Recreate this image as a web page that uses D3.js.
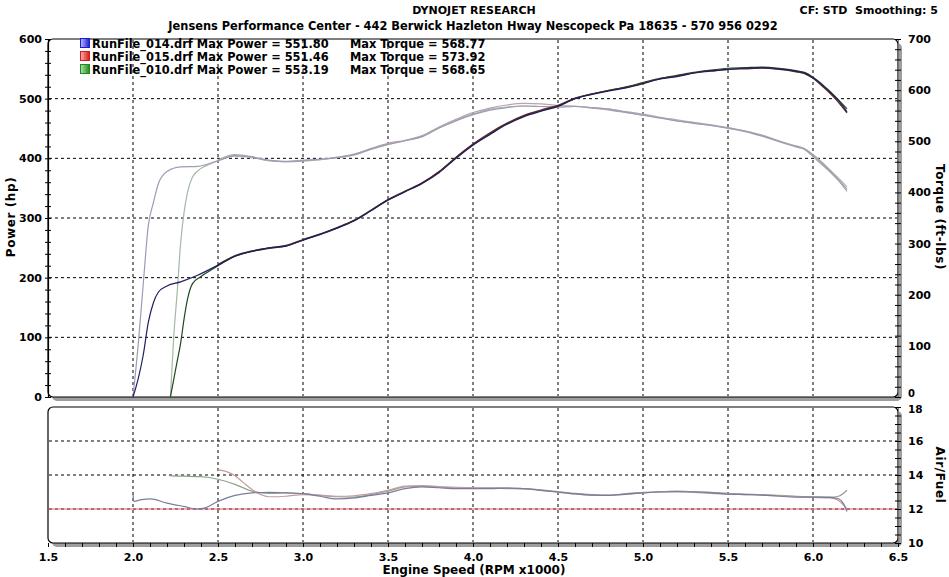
<!DOCTYPE html>
<html>
<head>
<meta charset="utf-8">
<script src="https://cdn.jsdelivr.net/npm/d3@7"></script>
<style>
  body { margin: 0; background: #fff; }
  svg { display: block; font-family: Verdana, "DejaVu Sans", sans-serif; font-weight: bold; }
  .grid line { stroke: #000; stroke-width: 1; stroke-dasharray: 3,3; }
  .curve { fill: none; stroke-width: 1.2; }
</style>
</head>
<body>
<div id="chart"></div>
<script>
// Run files shown in the legend
const runNames = ['RunFile_014.drf', 'RunFile_015.drf', 'RunFile_010.drf'];
const maxPower = ['551.80', '551.46', '553.19'];
const maxTorque = ['568.77', '573.92', '568.65'];

// RunFile_014 - power (hp) and torque (ft-lbs) vs engine speed (RPM x1000)
const rpm014 = [2.00, 2.03, 2.06, 2.09, 2.12, 2.15, 2.20, 2.28, 2.38, 2.50, 2.60, 2.70, 2.80, 2.90, 3.00, 3.10, 3.20, 3.30, 3.40, 3.50,
  3.60, 3.70, 3.80, 3.90, 4.00, 4.10, 4.20, 4.30, 4.40, 4.50, 4.60, 4.70, 4.80, 4.90, 5.00, 5.10, 5.20, 5.30, 5.40, 5.50,
  5.60, 5.70, 5.80, 5.90, 5.95, 6.00, 6.05, 6.10, 6.15, 6.20];
const hp014 = [0, 30, 70, 125, 158, 176, 186, 193, 204, 221, 236, 244, 250, 253, 263, 273, 283, 295, 312, 330,
  344, 358, 376, 400, 422, 440, 457, 470, 479, 487, 500, 507, 513, 518, 525, 533, 537, 543, 547, 549,
  551, 552, 550, 546, 543, 535, 524, 511, 497, 478];
const tq014 = [0, 100, 220, 335, 380, 418, 441, 450, 451, 462, 472, 469, 463, 460, 462, 465, 468, 474, 485, 494,
  501, 509, 526, 540, 552, 561, 566, 569, 568, 567, 568, 566, 563, 557, 551, 546, 540, 535, 531, 526,
  520, 511, 500, 490, 485, 472, 458, 442, 425, 406];

// RunFile_015 - logged from 2500 rpm
const rpm015 = [2.50, 2.60, 2.70, 2.80, 2.90, 3.00, 3.10, 3.20, 3.30, 3.40, 3.50, 3.60, 3.70, 3.80, 3.90, 4.00, 4.10, 4.20,
  4.30, 4.40, 4.50, 4.60, 4.70, 4.80, 4.90, 5.00, 5.10, 5.20, 5.30, 5.40, 5.50, 5.60, 5.70, 5.80, 5.90, 5.95,
  6.00, 6.05, 6.10, 6.15, 6.20];
const hp015 = [222, 237, 245, 250, 254, 264, 273, 284, 296, 313, 331, 345, 359, 378, 402, 424, 443, 459,
  472, 481, 489, 501, 508, 514, 519, 526, 533, 538, 543, 546, 549, 550, 551, 549, 545, 542,
  534, 522, 509, 494, 476];
const tq015 = [464, 474, 470, 462, 461, 463, 464, 469, 475, 486, 496, 502, 511, 528, 543, 556, 565, 571,
  574, 573, 570, 569, 565, 561, 556, 551, 545, 540, 536, 531, 525, 519, 510, 499, 489, 484,
  470, 455, 440, 423, 402];

// RunFile_010 - logged from 2220 rpm
const rpm010 = [2.22, 2.24, 2.26, 2.28, 2.30, 2.32, 2.35, 2.40, 2.45, 2.50, 2.60, 2.70, 2.80, 2.90, 3.00, 3.10, 3.20, 3.30,
  3.40, 3.50, 3.60, 3.70, 3.80, 3.90, 4.00, 4.10, 4.20, 4.30, 4.40, 4.50, 4.60, 4.70, 4.80, 4.90, 5.00, 5.10,
  5.20, 5.30, 5.40, 5.50, 5.60, 5.70, 5.80, 5.90, 5.95, 6.00, 6.05, 6.10, 6.15, 6.20];
const hp010 = [0, 30, 60, 90, 130, 163, 190, 202, 211, 220, 236, 244, 249, 253, 263, 272, 283, 296,
  313, 330, 344, 358, 377, 401, 423, 441, 458, 471, 480, 488, 500, 508, 514, 520, 527, 534,
  539, 544, 548, 551, 552, 553, 551, 547, 544, 536, 525, 512, 498, 483];
const tq010 = [0, 120, 205, 300, 360, 399, 430, 447, 455, 462, 471, 468, 462, 460, 461, 464, 468, 473,
  484, 494, 501, 509, 526, 541, 553, 563, 567, 569, 568, 567, 568, 566, 563, 558, 553, 547,
  542, 537, 532, 527, 520, 512, 501, 491, 486, 474, 460, 444, 428, 411];

// Air/Fuel ratio traces
const afrRpm014 = [2.000, 2.004, 2.05, 2.10, 2.20, 2.30, 2.38, 2.42, 2.50, 2.60, 2.70, 2.80, 2.90, 3.00, 3.10, 3.20, 3.30,
  3.40, 3.50, 3.60, 3.70, 3.80, 3.90, 4.00, 4.10, 4.20, 4.30, 4.40, 4.50, 4.60, 4.70, 4.80, 4.90, 5.00, 5.10,
  5.20, 5.30, 5.40, 5.50, 5.60, 5.70, 5.80, 5.90, 6.00, 6.10, 6.15, 6.18, 6.20];
const afr014 = [12.95, 12.45, 12.55, 12.6, 12.35, 12.15, 12.0, 12.05, 12.45, 12.8, 12.95, 12.98, 12.95, 12.9, 12.75, 12.6, 12.65,
  12.8, 12.95, 13.2, 13.3, 13.25, 13.2, 13.2, 13.2, 13.22, 13.2, 13.1, 13.0, 12.9, 12.82, 12.8, 12.88, 12.95, 13.0,
  13.02, 13.0, 12.95, 12.88, 12.85, 12.82, 12.75, 12.7, 12.7, 12.68, 12.6, 12.3, 11.85];
const afrRpm015 = [2.50, 2.55, 2.60, 2.65, 2.70, 2.75, 2.80, 2.90, 3.00, 3.10, 3.20, 3.30, 3.40, 3.50, 3.60, 3.70, 3.80,
  3.90, 4.00, 4.10, 4.20, 4.30, 4.40, 4.50, 4.60, 4.70, 4.80, 4.90, 5.00, 5.10, 5.20, 5.30, 5.40, 5.50, 5.60,
  5.70, 5.80, 5.90, 6.00, 6.10, 6.15, 6.20];
const afr015 = [14.3, 14.2, 13.95, 13.55, 13.15, 12.85, 12.72, 12.75, 12.85, 12.82, 12.75, 12.78, 12.9, 13.1, 13.35, 13.38, 13.32,
  13.28, 13.25, 13.22, 13.2, 13.18, 13.1, 12.98, 12.88, 12.82, 12.8, 12.86, 12.95, 13.0, 13.02, 12.98, 12.92, 12.88, 12.85,
  12.82, 12.78, 12.72, 12.68, 12.65, 12.5, 12.0];
const afrRpm010 = [2.22, 2.30, 2.40, 2.50, 2.60, 2.70, 2.80, 2.90, 3.00, 3.10, 3.20, 3.30, 3.40, 3.50, 3.60, 3.70, 3.80,
  3.90, 4.00, 4.10, 4.20, 4.30, 4.40, 4.50, 4.60, 4.70, 4.80, 4.90, 5.00, 5.10, 5.20, 5.30, 5.40, 5.50, 5.60,
  5.70, 5.80, 5.90, 6.00, 6.10, 6.15, 6.20];
const afr010 = [13.95, 13.93, 13.9, 13.75, 13.45, 13.05, 12.92, 12.95, 12.9, 12.8, 12.72, 12.7, 12.85, 13.05, 13.3, 13.35, 13.3,
  13.25, 13.25, 13.25, 13.25, 13.2, 13.12, 13.02, 12.92, 12.85, 12.82, 12.9, 12.98, 13.02, 13.05, 13.02, 12.98, 12.92, 12.88,
  12.85, 12.8, 12.75, 12.72, 12.7, 12.75, 13.1];

const afrTarget = 12;

// Colours per run: swatch, power trace, torque trace, A/F trace
const swatchColors = [['#b8b8ff', '#1c1cd0'], ['#ffb0b0', '#d01c1c'], ['#b0e0b0', '#1c8c1c']];
const powerColors = ['#1e1e62', '#62281e', '#1e4a1e'];
const torqueColors = ['#9c9cb8', '#bca2a6', '#a6b8a6'];
const afrColors = ['#7c7c9e', '#c49c9c', '#8ea28e'];

const zip = (xs, ys) => xs.map((x, i) => ({ x, y: ys[i] }));
const runs = [
  { power: zip(rpm014, hp014), torque: zip(rpm014, tq014), afr: zip(afrRpm014, afr014) },
  { power: zip(rpm015, hp015), torque: zip(rpm015, tq015), afr: zip(afrRpm015, afr015) },
  { power: zip(rpm010, hp010), torque: zip(rpm010, tq010), afr: zip(afrRpm010, afr010) }
];

const width = 949;
const height = 577;
const upper = { left: 48, right: 898, top: 39, bottom: 397 };
const lower = { left: 48, right: 898, top: 407, bottom: 543 };

const svg = d3.select('#chart').append('svg')
  .attr('width', width)
  .attr('height', height);

const x = d3.scaleLinear().domain([1.5, 6.5]).range([upper.left, upper.right]);
const yHp = d3.scaleLinear().domain([0, 600]).range([upper.bottom, upper.top]);
const yTq = d3.scaleLinear().domain([0, 700]).range([upper.bottom, upper.top]);
const yAfr = d3.scaleLinear().domain([10, 18]).range([lower.bottom, lower.top]);

/**
 * Plot frame with grey drop shadow
 */
function drawFrame(box) {
  svg.append('rect')
    .attr('x', box.left + 4).attr('y', box.top + 4)
    .attr('width', box.right - box.left).attr('height', box.bottom - box.top)
    .attr('rx', 5).attr('fill', '#9e9e9e');
  svg.append('rect')
    .attr('x', box.left).attr('y', box.top)
    .attr('width', box.right - box.left).attr('height', box.bottom - box.top)
    .attr('rx', 5).attr('fill', '#fff')
    .attr('stroke', '#000').attr('stroke-width', 1.2);
}
drawFrame(upper);
drawFrame(lower);

// Dashed grid
const rpmGrid = d3.range(20, 61, 5).map(d => d / 10);
const grid = svg.append('g').attr('class', 'grid');
[upper, lower].forEach(box => {
  grid.selectAll(null).data(rpmGrid).join('line')
    .attr('x1', d => x(d)).attr('x2', d => x(d))
    .attr('y1', box.top + 1).attr('y2', box.bottom - 1);
});

// A/F target line sits under the 12.0 grid line
svg.append('line')
  .attr('x1', lower.left + 1).attr('x2', lower.right - 1)
  .attr('y1', yAfr(afrTarget)).attr('y2', yAfr(afrTarget))
  .attr('stroke', '#e8606c').attr('stroke-width', 1.2);

grid.selectAll(null).data([100, 200, 300, 400, 500]).join('line')
  .attr('x1', upper.left + 1).attr('x2', upper.right - 1)
  .attr('y1', d => yHp(d)).attr('y2', d => yHp(d));
grid.selectAll(null).data([12, 14, 16]).join('line')
  .attr('x1', lower.left + 1).attr('x2', lower.right - 1)
  .attr('y1', d => yAfr(d)).attr('y2', d => yAfr(d));

// Axes
function styleAxis(g, half) {
  g.select('.domain').attr('stroke', '#000').attr('stroke-width', 1.2);
  g.selectAll('.tick line').attr('stroke', '#000');
  if (half) g.selectAll('.tick line').attr('x1', -half).attr('x2', half);
  g.attr('font-family', null).attr('font-size', 11);
  g.selectAll('.tick text').attr('fill', '#000');
}

svg.append('g')
  .attr('transform', `translate(${upper.left},0)`)
  .call(d3.axisLeft(yHp).tickValues(d3.range(0, 601, 20))
    .tickFormat(d => d % 100 === 0 ? d : '').tickSizeInner(3).tickSizeOuter(0).tickPadding(3))
  .call(g => styleAxis(g, 3));

svg.append('g')
  .attr('transform', `translate(${upper.right},0)`)
  .call(d3.axisRight(yTq).tickValues(d3.range(0, 701, 20))
    .tickFormat(d => d % 100 === 0 ? d : '').tickSizeInner(3).tickSizeOuter(0).tickPadding(7))
  .call(g => styleAxis(g, 3))
  .call(g => g.select('.domain').attr('stroke', '#7a7a7a').attr('stroke-width', 1))
  // bottom label nudged up so it clears the A/F "18"
  .call(g => g.selectAll('.tick text').filter(d => d === 0).attr('dy', '-0.05em').attr('font-size', 10));

svg.append('g')
  .attr('transform', `translate(${lower.right},0)`)
  .call(d3.axisRight(yAfr).tickValues(d3.range(20, 37).map(d => d / 2))
    .tickFormat(d => d % 2 === 0 ? d : '').tickSizeInner(3).tickSizeOuter(0).tickPadding(7))
  .call(g => styleAxis(g, 3))
  .call(g => g.select('.domain').attr('stroke', '#7a7a7a').attr('stroke-width', 1))
  .call(g => g.selectAll('.tick text').filter(d => d === 18).attr('dy', '0.5em').attr('font-size', 10.5));

svg.append('g')
  .attr('transform', `translate(0,${lower.bottom})`)
  .call(d3.axisBottom(x).tickValues(d3.range(15, 66).map(d => d / 10))
    .tickFormat(d => Math.round(d * 10) % 5 === 0 ? d3.format('.1f')(d) : '')
    .tickSizeInner(4).tickSizeOuter(0).tickPadding(6))
  .call(g => styleAxis(g, 0))
  .call(g => g.select('.domain').remove());

// Curves
const line = (yScale) => d3.line()
  .x(d => x(d.x))
  .y(d => yScale(d.y))
  .curve(d3.curveMonotoneX);

const curves = svg.append('g');
[2, 1, 0].forEach(i => {
  curves.append('path').attr('class', 'curve')
    .attr('d', line(yAfr)(runs[i].afr)).attr('stroke', afrColors[i]);
  curves.append('path').attr('class', 'curve')
    .attr('d', line(yTq)(runs[i].torque)).attr('stroke', torqueColors[i]);
});
[2, 1, 0].forEach(i => {
  curves.append('path').attr('class', 'curve')
    .attr('d', line(yHp)(runs[i].power)).attr('stroke', powerColors[i]);
});

// Legend
const defs = svg.append('defs');
swatchColors.forEach((c, i) => {
  const grad = defs.append('linearGradient').attr('id', `sw${i}`);
  grad.append('stop').attr('offset', '0%').attr('stop-color', c[0]);
  grad.append('stop').attr('offset', '100%').attr('stop-color', c[1]);
});
const legend = svg.append('g').attr('font-size', 11.4);
runNames.forEach((name, i) => {
  const y = 48 + i * 13;
  legend.append('rect')
    .attr('x', 80.5).attr('y', y - 9.5).attr('width', 9).attr('height', 9)
    .attr('fill', `url(#sw${i})`).attr('stroke', swatchColors[i][1]).attr('stroke-width', 1);
  legend.append('text').attr('x', 92).attr('y', y)
    .text(`${name} Max Power = ${maxPower[i]}`);
  legend.append('text').attr('x', 350).attr('y', y)
    .text(`Max Torque = ${maxTorque[i]}`);
});

// Titles
svg.append('text').attr('x', 474).attr('y', 14).attr('text-anchor', 'middle').attr('font-size', 11)
  .text('DYNOJET RESEARCH');
svg.append('text').attr('x', 473).attr('y', 30).attr('text-anchor', 'middle').attr('font-size', 11.4)
  .text('Jensens Performance Center - 442 Berwick Hazleton Hway Nescopeck Pa 18635 - 570 956 0292');
svg.append('text').attr('x', 938).attr('y', 14).attr('text-anchor', 'end').attr('font-size', 11)
  .attr('xml:space', 'preserve')
  .text('CF: STD  Smoothing: 5');

svg.append('text')
  .attr('transform', 'translate(15,217) rotate(-90)')
  .attr('text-anchor', 'middle').attr('font-size', 12).attr('letter-spacing', 0.6)
  .text('Power (hp)');
svg.append('text')
  .attr('transform', 'translate(936,217) rotate(90)')
  .attr('text-anchor', 'middle').attr('font-size', 12).attr('letter-spacing', 0.6)
  .text('Torque (ft-lbs)');
svg.append('text')
  .attr('transform', 'translate(936,475) rotate(90)')
  .attr('text-anchor', 'middle').attr('font-size', 12).attr('letter-spacing', 0.6)
  .text('Air/Fuel');
svg.append('text')
  .attr('x', 474).attr('y', 574).attr('text-anchor', 'middle').attr('font-size', 12)
  .text('Engine Speed (RPM x1000)');
</script>
</body>
</html>
